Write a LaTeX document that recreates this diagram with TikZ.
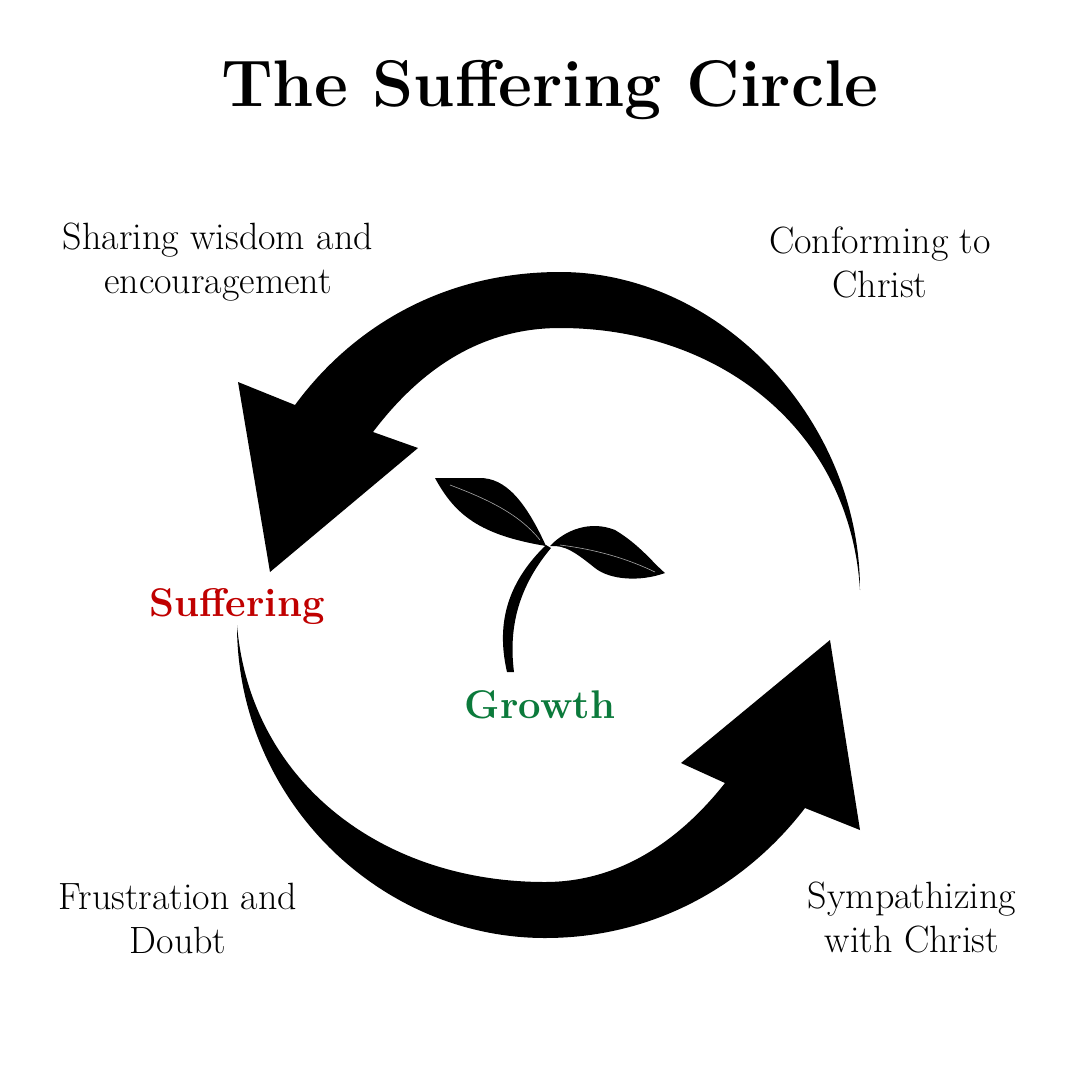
\documentclass[tikz,border=0pt]{standalone}
\begin{document}
\begin{tikzpicture}[x=1pt,y=-1pt,
  lab/.style={font=\fontsize{38}{44}\selectfont, align=center},
  blk/.style={fill=black, draw=none}]
\useasboundingbox[fill=white] (0,0) rectangle (1080,1080);
\definecolor{sred}{HTML}{C00000}
\definecolor{sgreen}{HTML}{0B7A3B}
\node[font=\bfseries\fontsize{66}{70}\selectfont] (title) at (550,90) {The Suffering Circle};
\node[lab] (sw) at (218,262) {Sharing wisdom and\\encouragement};
\node[lab] (cc) at (880,262) {Conforming to\\Christ};
\node[lab] (fd) at (178,918) {Frustration and\\Doubt};
\node[lab] (sc) at (912,918) {Sympathizing\\with Christ};
\node[font=\bfseries\fontsize{40}{44}\selectfont, text=sred] (suf) at (237,607) {Suffering};
\node[font=\bfseries\fontsize{40}{44}\selectfont, text=sgreen] (gro) at (540,705) {Growth};
% top arrow
\fill[blk] (860,590) .. controls (860,420) and (720,272) .. (560,272)
  .. controls (440,272) and (350,330) .. (295,405)
  -- (238,382) -- (270,572) -- (418,448) -- (373,432)
  .. controls (420,370) and (480,328) .. (560,328)
  .. controls (720,328) and (850,430) .. (860,590) -- cycle;
% bottom arrow
\fill[blk] (237,625) .. controls (237,800) and (380,938) .. (545,938)
  .. controls (660,938) and (750,880) .. (805,808)
  -- (860,830) -- (830,640) -- (681,763) -- (725,783)
  .. controls (680,840) and (620,882) .. (545,882)
  .. controls (380,882) and (250,780) .. (237,625) -- cycle;
% sprout
\fill[blk] (507,672) .. controls (495,620) and (510,580) .. (546,545)
  -- (551,548) .. controls (520,585) and (508,625) .. (514,672) -- cycle;
\fill[blk] (546,546) .. controls (525,500) and (505,478) .. (480,478)
  -- (435,478) .. controls (455,515) and (480,535) .. (546,546) -- cycle;
\fill[blk] (550,546) .. controls (565,530) and (590,520) .. (615,530)
  .. controls (640,545) and (652,562) .. (665,573)
  .. controls (640,582) and (610,580) .. (595,568)
  .. controls (575,552) and (565,545) .. (550,546) -- cycle;
\draw[gray!70, line width=0.6pt] (450,485) .. controls (490,500) and (520,515) .. (540,540);
\draw[gray!70, line width=0.6pt] (560,545) .. controls (600,550) and (630,560) .. (655,572);
\end{tikzpicture}
\end{document}
